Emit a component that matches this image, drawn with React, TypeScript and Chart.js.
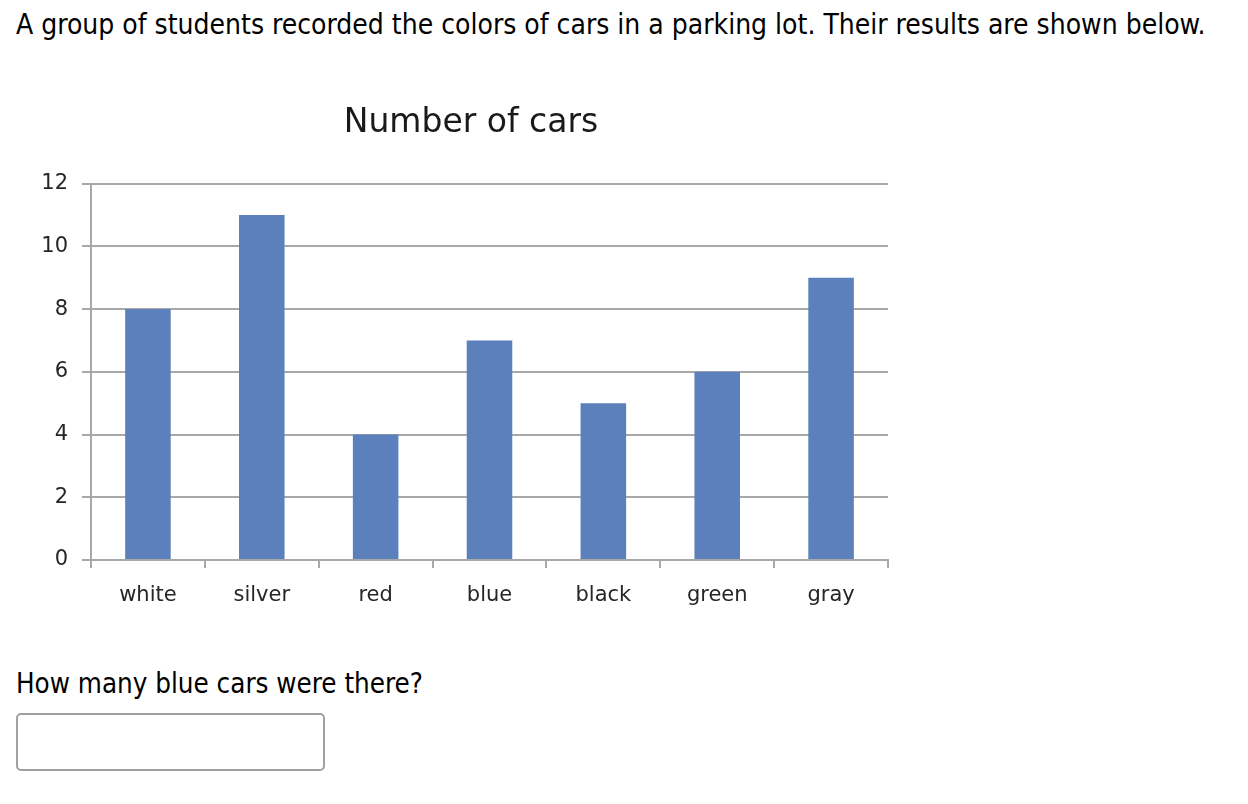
import React, { useEffect, useRef } from "react";
import { Chart, registerables } from "chart.js";

Chart.register(...registerables);

const heading = "A group of students recorded the colors of cars in a parking lot. Their results are shown below.";
const chartTitle = "Number of cars";
const question = "How many blue cars were there?";
const categories = ["white", "silver", "red", "blue", "black", "green", "gray"];
const carCounts = [8, 11, 4, 7, 5, 6, 9];
const yMin = 0;
const yMax = 12;
const yStep = 2;

const GRID = "#a8a8a8";
const BAR = "#5b80bb";
const CHART_FONT = "'DejaVu Sans', Verdana, sans-serif";
const TEXT_FONT = "'DejaVu Sans Condensed', 'DejaVu Sans', Tahoma, sans-serif";

export default function App() {
  const ref = useRef<HTMLCanvasElement | null>(null);

  useEffect(() => {
    if (!ref.current) return;
    const chart = new Chart(ref.current, {
      type: "bar",
      data: {
        labels: categories,
        datasets: [
          {
            label: chartTitle,
            data: carCounts,
            backgroundColor: BAR,
            borderWidth: 0,
            barPercentage: 0.4,
            categoryPercentage: 1,
            yAxisID: "y",
          },
        ],
      },
      options: {
        responsive: false,
        animation: false,
        layout: { padding: 0 },
        plugins: {
          legend: { display: false },
          tooltip: { enabled: false },
          title: {
            display: true,
            text: chartTitle,
            color: "#1a1a1a",
            font: { family: CHART_FONT, size: 33, weight: "normal", lineHeight: 1.2 },
            padding: { top: 0, bottom: 40 },
          },
        },
        scales: {
          x: {
            grid: {
              offset: true,
              drawOnChartArea: false,
              drawTicks: true,
              tickLength: 8,
              color: GRID,
              lineWidth: 2,
            },
            border: { display: true, color: GRID, width: 2 },
            ticks: {
              color: "#262626",
              padding: 15,
              font: { family: CHART_FONT, size: 21 },
            },
            afterFit: (s: any) => {
              s.height = 50;
            },
          },
          y: {
            position: "left",
            min: yMin,
            max: yMax,
            grid: {
              color: GRID,
              lineWidth: 2,
              tickLength: 9,
            },
            border: { display: true, color: GRID, width: 2 },
            ticks: {
              stepSize: yStep,
              color: "#262626",
              padding: 14,
              font: { family: CHART_FONT, size: 21 },
            },
            afterFit: (s: any) => {
              s.width = 71;
            },
          },
          yRight: {
            position: "right",
            min: yMin,
            max: yMax,
            grid: { display: false, drawTicks: false },
            border: { display: false },
            ticks: { display: false },
            afterFit: (s: any) => {
              s.width = 34;
            },
          },
        },
      },
    });
    return () => chart.destroy();
  }, []);

  return (
    <div style={{ position: "relative", width: 1248, height: 804, margin: -8 }}>
      <div
        style={{
          position: "absolute",
          left: 16,
          top: 11,
          fontFamily: TEXT_FONT,
          fontStretch: "condensed",
          fontSize: 28,
          lineHeight: "28px",
          color: "#000",
          whiteSpace: "nowrap",
        }}
      >
        {heading}
      </div>
      <canvas
        ref={ref}
        width={902}
        height={506}
        style={{ position: "absolute", left: 20, top: 104, width: 902, height: 506 }}
      />
      <div
        style={{
          position: "absolute",
          left: 16,
          top: 670,
          fontFamily: TEXT_FONT,
          fontStretch: "condensed",
          fontSize: 27.5,
          lineHeight: "27.5px",
          color: "#000",
          whiteSpace: "nowrap",
        }}
      >
        {question}
      </div>
      <div
        style={{
          position: "absolute",
          left: 16,
          top: 713,
          width: 305,
          height: 54,
          border: "2px solid #a0a0a0",
          borderRadius: 5,
          background: "#fff",
        }}
      />
    </div>
  );
}
